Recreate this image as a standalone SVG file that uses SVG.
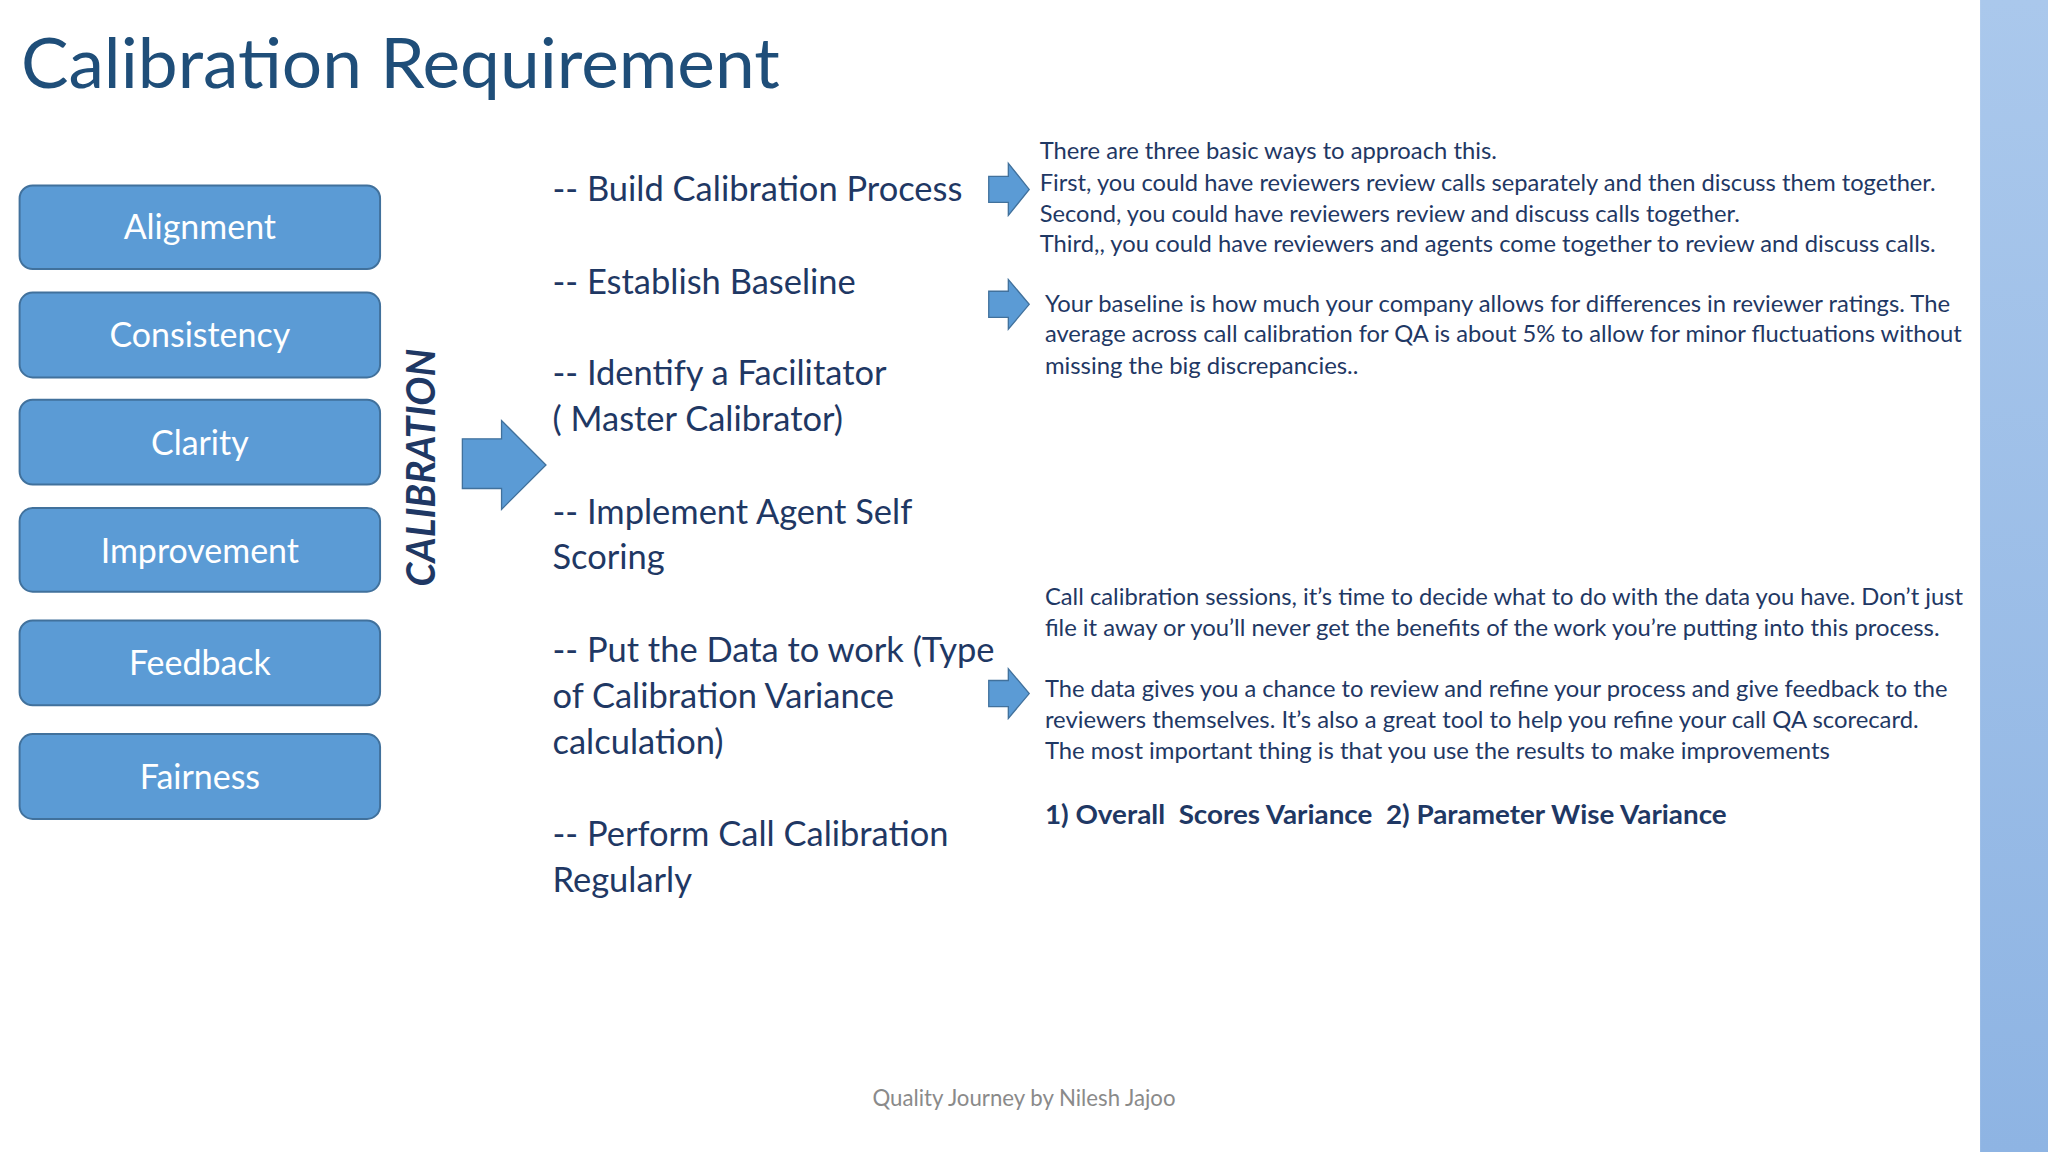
<svg xmlns="http://www.w3.org/2000/svg" width="2048" height="1152" viewBox="0 0 2048 1152">
<defs>
<linearGradient id="bar" x1="0" y1="0" x2="0" y2="1"><stop offset="0" stop-color="#aac8ec"/><stop offset="1" stop-color="#8eb4e3"/></linearGradient>
<style>
.t{font-family:Lato,"Open Sans","Liberation Sans",sans-serif}
.box rect{fill:#5b9bd5;stroke:#41719c;stroke-width:1.5}
.box text{fill:#fff;font-size:26px;text-anchor:middle}
.mid{fill:#1f3864;font-size:26.4px}
.sm{fill:#1f3864;font-size:17px}
.arr{fill:#5b9bd5;stroke:#41719c;stroke-width:1}
</style>
</defs>
<rect width="2048" height="1152" fill="#fff"/>
<g transform="scale(1.306122)" class="t">
<rect x="1516" y="0" width="52" height="882" fill="url(#bar)"/>
<text x="16" y="67" font-size="53" fill="#1f4e79" textLength="581" lengthAdjust="spacingAndGlyphs">Calibration Requirement</text>
<g id="n-alignment" class="box"><rect x="15" y="142" width="276" height="64" rx="10"/><text x="153" y="183">Alignment</text></g>
<g id="n-consistency" class="box"><rect x="15" y="224" width="276" height="65" rx="10"/><text x="153" y="266">Consistency</text></g>
<g id="n-clarity" class="box"><rect x="15" y="306" width="276" height="65" rx="10"/><text x="153" y="348">Clarity</text></g>
<g id="n-improvement" class="box"><rect x="15" y="389" width="276" height="64" rx="10"/><text x="153" y="431">Improvement</text></g>
<g id="n-feedback" class="box"><rect x="15" y="475" width="276" height="65" rx="10"/><text x="153" y="517">Feedback</text></g>
<g id="n-fairness" class="box"><rect x="15" y="562" width="276" height="65" rx="10"/><text x="153" y="604">Fairness</text></g>
<text transform="translate(333,358) rotate(-90)" text-anchor="middle" font-size="30" font-weight="bold" font-style="italic" fill="#1f3864" textLength="182" lengthAdjust="spacingAndGlyphs">CALIBRATION</text>
<g id="connectors">
<path class="arr" d="M354,336 H384 V322 L418,356 L384,390 V374 H354 Z"/>
<path class="arr" d="M757,135 H772 V125 L788,145 L772,165 V155 H757 Z"/>
<path class="arr" d="M757,223 H772 V214 L788,233 L772,252 V243 H757 Z"/>
<path class="arr" d="M757,521 H772 V512 L788,531 L772,550 V541 H757 Z"/>
</g>
<g id="items" class="mid">
<text x="423" y="154">-- Build Calibration Process</text>
<text x="423" y="225">-- Establish Baseline</text>
<text x="423" y="295">-- Identify a Facilitator</text>
<text x="423" y="330">( Master Calibrator)</text>
<text x="423" y="401">-- Implement Agent Self</text>
<text x="423" y="436">Scoring</text>
<text x="423" y="507">-- Put the Data to work (Type</text>
<text x="423" y="542">of Calibration Variance</text>
<text x="423" y="577">calculation)</text>
<text x="423" y="648">-- Perform Call Calibration</text>
<text x="423" y="683">Regularly</text>
</g>
<g id="notes" class="sm">
<text x="796" y="122" textLength="350" lengthAdjust="spacingAndGlyphs">There are three basic ways to approach this.</text>
<text x="796" y="146" textLength="686" lengthAdjust="spacingAndGlyphs">First, you could have reviewers review calls separately and then discuss them together.</text>
<text x="796" y="170" textLength="536" lengthAdjust="spacingAndGlyphs">Second, you could have reviewers review and discuss calls together.</text>
<text x="796" y="193" textLength="686" lengthAdjust="spacingAndGlyphs">Third,, you could have reviewers and agents come together to review and discuss calls.</text>
<text x="800" y="239" textLength="693" lengthAdjust="spacingAndGlyphs">Your baseline is how much your company allows for differences in reviewer ratings. The</text>
<text x="800" y="262" textLength="702" lengthAdjust="spacingAndGlyphs">average across call calibration for QA is about 5% to allow for minor fluctuations without</text>
<text x="800" y="286" textLength="240" lengthAdjust="spacingAndGlyphs">missing the big discrepancies..</text>
<text x="800" y="463" textLength="703" lengthAdjust="spacingAndGlyphs">Call calibration sessions, it’s time to decide what to do with the data you have. Don’t just</text>
<text x="800" y="487" textLength="685" lengthAdjust="spacingAndGlyphs">file it away or you’ll never get the benefits of the work you’re putting into this process.</text>
<text x="800" y="534" textLength="691" lengthAdjust="spacingAndGlyphs">The data gives you a chance to review and refine your process and give feedback to the</text>
<text x="800" y="557" textLength="669" lengthAdjust="spacingAndGlyphs">reviewers themselves. It’s also a great tool to help you refine your call QA scorecard.</text>
<text x="800" y="581" textLength="601" lengthAdjust="spacingAndGlyphs">The most important thing is that you use the results to make improvements</text>
<text x="800" y="631" font-size="20" font-weight="bold" textLength="522" lengthAdjust="spacingAndGlyphs" xml:space="preserve">1) Overall  Scores Variance  2) Parameter Wise Variance</text>
</g>
<text x="784" y="847" text-anchor="middle" font-size="17" fill="#8a8a8a">Quality Journey by Nilesh Jajoo</text>
</g>
</svg>
